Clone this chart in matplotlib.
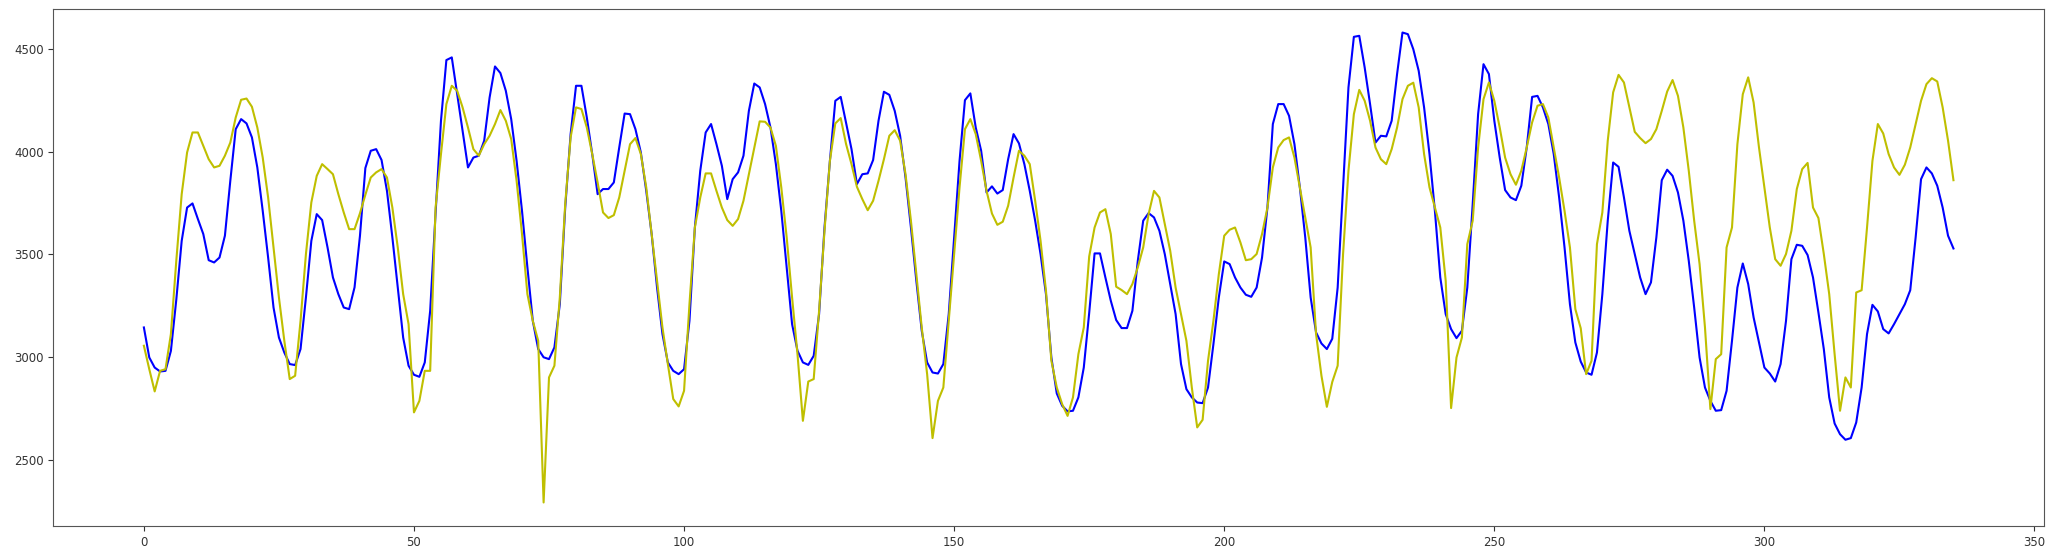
import numpy as np
import matplotlib
matplotlib.use("Agg")
import matplotlib.pyplot as plt

blue_series = [
3145,2999,2950,2931,2934,3031,3280,3566,3728,3748,3672,3599,3472,3461,3485,3591,3858,4109,4158,4137,
4069,3923,3712,3485,3242,3096,3023,2967,2962,3040,3291,3566,3696,3667,3534,3388,3307,3242,3234,3340,
3590,3920,4004,4012,3959,3809,3583,3340,3096,2959,2915,2905,2975,3226,3700,4150,4445,4458,4280,4101,
3923,3971,3980,4053,4263,4414,4382,4296,4158,3955,3712,3437,3177,3040,3000,2991,3048,3258,3728,4085,
4320,4320,4166,3988,3793,3818,3818,3850,4020,4185,4182,4109,3996,3809,3599,3339,3113,2975,2934,2918,
2942,3177,3631,3907,4093,4134,4036,3931,3769,3866,3899,3980,4198,4331,4312,4231,4117,3939,3712,3437,
3161,3032,2975,2963,3007,3210,3631,3955,4247,4266,4138,4012,3842,3890,3894,3959,4150,4291,4276,4198,
4077,3874,3631,3372,3129,2975,2926,2921,2967,3210,3583,3955,4250,4283,4117,4004,3801,3831,3796,3813,
3963,4085,4040,3939,3809,3664,3501,3307,2999,2824,2764,2737,2740,2805,2950,3215,3505,3505,3388,3275,
3181,3142,3142,3226,3469,3664,3701,3680,3615,3501,3356,3210,2967,2845,2805,2780,2777,2853,3064,3291,
3466,3453,3388,3339,3304,3294,3339,3485,3728,4134,4231,4231,4174,4036,3826,3583,3291,3121,3067,3040,
3090,3339,3826,4312,4558,4563,4409,4231,4044,4077,4074,4150,4377,4579,4571,4498,4393,4215,3988,3712,
3388,3210,3137,3093,3129,3339,3745,4182,4425,4377,4150,3971,3813,3777,3764,3834,4020,4266,4271,4215,
4134,3988,3777,3534,3258,3072,2979,2926,2915,3023,3307,3664,3947,3926,3777,3615,3502,3388,3307,3364,
3583,3861,3912,3882,3801,3664,3469,3242,2999,2853,2788,2740,2743,2837,3080,3339,3456,3356,3194,3072,
2950,2921,2882,2967,3177,3477,3547,3542,3497,3388,3218,3040,2805,2678,2626,2599,2607,2683,2853,3113,
3255,3223,3137,3116,3161,3210,3258,3326,3583,3866,3923,3894,3834,3728,3591,3529,
]

yellow_series = [
3056,2942,2834,2934,2942,3113,3469,3793,3996,4093,4093,4028,3963,3923,3931,3980,4044,4166,4252,4258,
4218,4117,3971,3777,3534,3291,3080,2894,2910,3177,3502,3753,3882,3939,3915,3890,3793,3704,3623,3623,
3700,3790,3874,3899,3915,3874,3728,3534,3307,3161,2732,2788,2934,2934,3728,3988,4231,4320,4296,4215,
4117,4012,3980,4036,4077,4134,4202,4150,4061,3858,3599,3307,3177,3080,2294,2902,2959,3291,3745,4069,
4215,4207,4117,3988,3850,3704,3677,3691,3777,3907,4036,4066,3988,3826,3599,3372,3145,2967,2797,2761,
2837,3258,3631,3777,3894,3894,3809,3728,3667,3639,3672,3761,3890,4020,4147,4145,4117,4028,3826,3583,
3291,3015,2691,2882,2894,3226,3615,3955,4137,4163,4036,3939,3829,3769,3715,3761,3858,3963,4077,4104,
4053,3890,3664,3404,3145,2918,2607,2788,2853,3177,3502,3826,4109,4158,4085,3955,3809,3699,3644,3659,
3737,3874,4004,3980,3939,3761,3566,3323,2983,2853,2772,2715,2805,3015,3145,3490,3631,3704,3720,3599,
3343,3327,3307,3356,3437,3534,3696,3809,3777,3647,3518,3339,3210,3080,2853,2659,2696,2983,3177,3404,
3591,3620,3631,3558,3472,3477,3502,3599,3728,3923,4020,4056,4069,3971,3826,3680,3534,3113,2910,2759,
2880,2959,3502,3907,4182,4300,4247,4150,4020,3963,3939,4012,4117,4255,4320,4335,4215,3988,3826,3728,
3631,3372,2753,2999,3096,3550,3664,4020,4255,4336,4247,4117,3971,3890,3839,3907,4020,4142,4223,4231,
4166,4020,3874,3712,3534,3234,3141,2918,2983,3550,3704,4053,4288,4373,4336,4215,4096,4066,4041,4061,
4109,4198,4292,4348,4271,4117,3907,3664,3453,3145,2748,2991,3015,3534,3631,4036,4279,4361,4239,4020,
3826,3631,3477,3445,3502,3615,3818,3915,3945,3728,3677,3502,3307,3015,2740,2902,2853,3315,3326,3631,
3955,4134,4088,3988,3923,3887,3936,4020,4134,4247,4328,4357,4341,4215,4053,3861,
]

x_values = np.arange(len(blue_series))

fig = plt.figure(figsize=(20.54, 5.57), dpi=100)
ax = fig.add_axes([0.026, 0.0557, 0.9691, 0.9281])
ax.plot(x_values, blue_series, color='b', linewidth=1.5)
ax.plot(x_values, yellow_series, color='y', linewidth=1.5)

ax.set_xticks([0, 50, 100, 150, 200, 250, 300, 350])
ax.set_yticks([2500, 3000, 3500, 4000, 4500])
ax.tick_params(labelsize=8.5, colors='#333333')
for s in ax.spines.values():
    s.set_color('#555555')

fig.savefig('out.png', dpi=100)
